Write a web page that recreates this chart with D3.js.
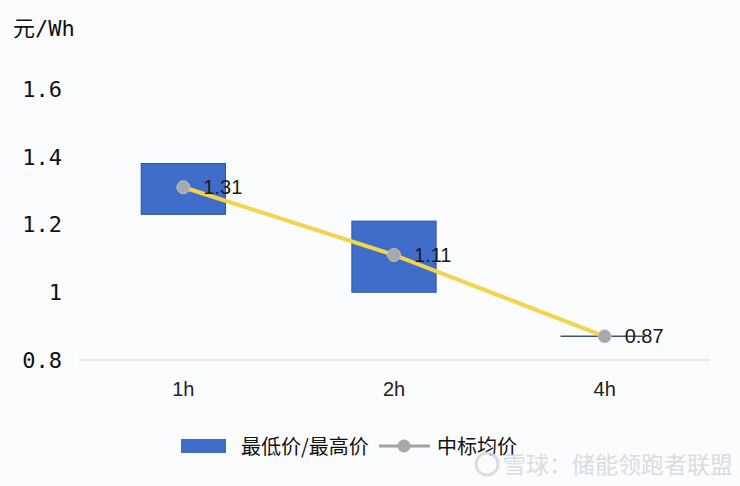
<!DOCTYPE html>
<html>
<head>
<meta charset="utf-8">
<script src="https://cdn.jsdelivr.net/npm/d3@7"></script>
<style>
  html, body { margin: 0; padding: 0; background: #fbfcfe; }
  svg { display: block; }
</style>
</head>
<body>
<svg id="chart" width="740" height="486"></svg>
<script>
// chart data
const categories = ["1h", "2h", "4h"];
const lowPrice = [1.23, 1.00, 0.87];
const highPrice = [1.38, 1.21, 0.87];
const avgPrice = [1.31, 1.11, 0.87];
const yTicks = [0.8, 1, 1.2, 1.4, 1.6];
const yTickLabels = ["0.8", "1", "1.2", "1.4", "1.6"];

const width = 740;
const height = 486;

const svg = d3.select("#chart");

svg.append("rect")
   .attr("width", width)
   .attr("height", height)
   .attr("fill", "#fbfcfe");

const x = d3.scaleBand()
            .domain(categories)
            .range([78, 710])
            .paddingInner(0.6)
            .paddingOuter(0.3);

const y = d3.scaleLinear()
            .domain([0.8, 1.6])
            .range([360, 89]);

const cx = d => x(d) + x.bandwidth() / 2;

// unit label
svg.append("text")
   .attr("x", 13)
   .attr("y", 36)
   .attr("font-family", "'DejaVu Sans Mono', 'Noto Sans CJK SC', monospace")
   .attr("font-size", 22)
   .attr("fill", "#111")
   .text("元/Wh");

// y tick labels
svg.append("g")
   .selectAll("text")
   .data(yTicks)
   .enter()
   .append("text")
   .attr("x", 62)
   .attr("y", d => y(d))
   .attr("dy", "0.36em")
   .attr("text-anchor", "end")
   .attr("font-family", "'DejaVu Sans Mono', monospace")
   .attr("font-size", 22)
   .attr("fill", "#111")
   .text((d, i) => yTickLabels[i]);

// baseline
svg.append("line")
   .attr("x1", 79)
   .attr("x2", 710)
   .attr("y1", y(0.8))
   .attr("y2", y(0.8))
   .attr("stroke", "#d6d6d6")
   .attr("stroke-width", 1.2);

// x labels
svg.append("g")
   .selectAll("text")
   .data(categories)
   .enter()
   .append("text")
   .attr("x", d => cx(d))
   .attr("y", 396)
   .attr("text-anchor", "middle")
   .attr("font-family", "'Liberation Sans', Arial, sans-serif")
   .attr("font-size", 20)
   .attr("fill", "#222")
   .text(d => d);

// low/high boxes
svg.append("g")
   .selectAll("rect")
   .data(categories.filter((d, i) => highPrice[i] > lowPrice[i]))
   .enter()
   .append("rect")
   .attr("x", d => x(d))
   .attr("width", x.bandwidth())
   .attr("y", d => y(highPrice[categories.indexOf(d)]))
   .attr("height", d => y(lowPrice[categories.indexOf(d)]) - y(highPrice[categories.indexOf(d)]))
   .attr("fill", "#3f6dc9")
   .attr("stroke", "#2f55a0")
   .attr("stroke-width", 1);

// flat boxes (low == high) show only as a thin line
svg.append("g")
   .selectAll("line")
   .data(categories.filter((d, i) => highPrice[i] === lowPrice[i]))
   .enter()
   .append("line")
   .attr("x1", d => x(d) - 2)
   .attr("x2", d => x(d) + x.bandwidth() - 2)
   .attr("y1", d => y(highPrice[categories.indexOf(d)]))
   .attr("y2", d => y(highPrice[categories.indexOf(d)]))
   .attr("stroke", "#44546a")
   .attr("stroke-width", 1.5);

// average line
const line = d3.line()
               .x(d => cx(d))
               .y((d, i) => y(avgPrice[i]));

svg.append("path")
   .datum(categories)
   .attr("d", line)
   .attr("fill", "none")
   .attr("stroke", "#f2d54a")
   .attr("stroke-width", 4)
   .attr("stroke-linecap", "round");

svg.append("g")
   .selectAll("circle")
   .data(categories)
   .enter()
   .append("circle")
   .attr("cx", d => cx(d))
   .attr("cy", (d, i) => y(avgPrice[i]))
   .attr("r", 6.5)
   .attr("fill", "#a7a9ac")
   .attr("stroke", "#bfc1c4")
   .attr("stroke-width", 1);

// value labels
svg.append("g")
   .selectAll("text")
   .data(categories)
   .enter()
   .append("text")
   .attr("x", d => cx(d) + 20)
   .attr("y", (d, i) => y(avgPrice[i]))
   .attr("dy", "0.36em")
   .attr("font-family", "'Liberation Sans', Arial, sans-serif")
   .attr("font-size", 20)
   .attr("fill", "#1a1a1a")
   .text((d, i) => avgPrice[i].toFixed(2));

// legend
const legend = svg.append("g");

legend.append("rect")
      .attr("x", 181)
      .attr("y", 439)
      .attr("width", 45)
      .attr("height", 14)
      .attr("fill", "#3f6dc9");

legend.append("text")
      .attr("x", 241)
      .attr("y", 454)
      .attr("font-family", "'Noto Sans CJK SC', sans-serif")
      .attr("font-size", 20)
      .attr("fill", "#111")
      .text("最低价/最高价");

legend.append("line")
      .attr("x1", 379)
      .attr("x2", 430)
      .attr("y1", 446)
      .attr("y2", 446)
      .attr("stroke", "#9fa1a4")
      .attr("stroke-width", 3);

legend.append("circle")
      .attr("cx", 404)
      .attr("cy", 446)
      .attr("r", 6.5)
      .attr("fill", "#a7a9ac");

legend.append("text")
      .attr("x", 437)
      .attr("y", 454)
      .attr("font-family", "'Noto Sans CJK SC', sans-serif")
      .attr("font-size", 20)
      .attr("fill", "#111")
      .text("中标均价");

// watermark
const mark = svg.append("g").attr("opacity", 0.85);

mark.append("circle")
    .attr("cx", 487)
    .attr("cy", 464)
    .attr("r", 11)
    .attr("fill", "none")
    .attr("stroke", "#d4d7db")
    .attr("stroke-width", 3);

mark.append("text")
    .attr("x", 503)
    .attr("y", 473)
    .attr("font-family", "'Noto Sans CJK SC', sans-serif")
    .attr("font-size", 23)
    .attr("fill", "#d4d7db")
    .text("雪球：储能领跑者联盟");
</script>
</body>
</html>
